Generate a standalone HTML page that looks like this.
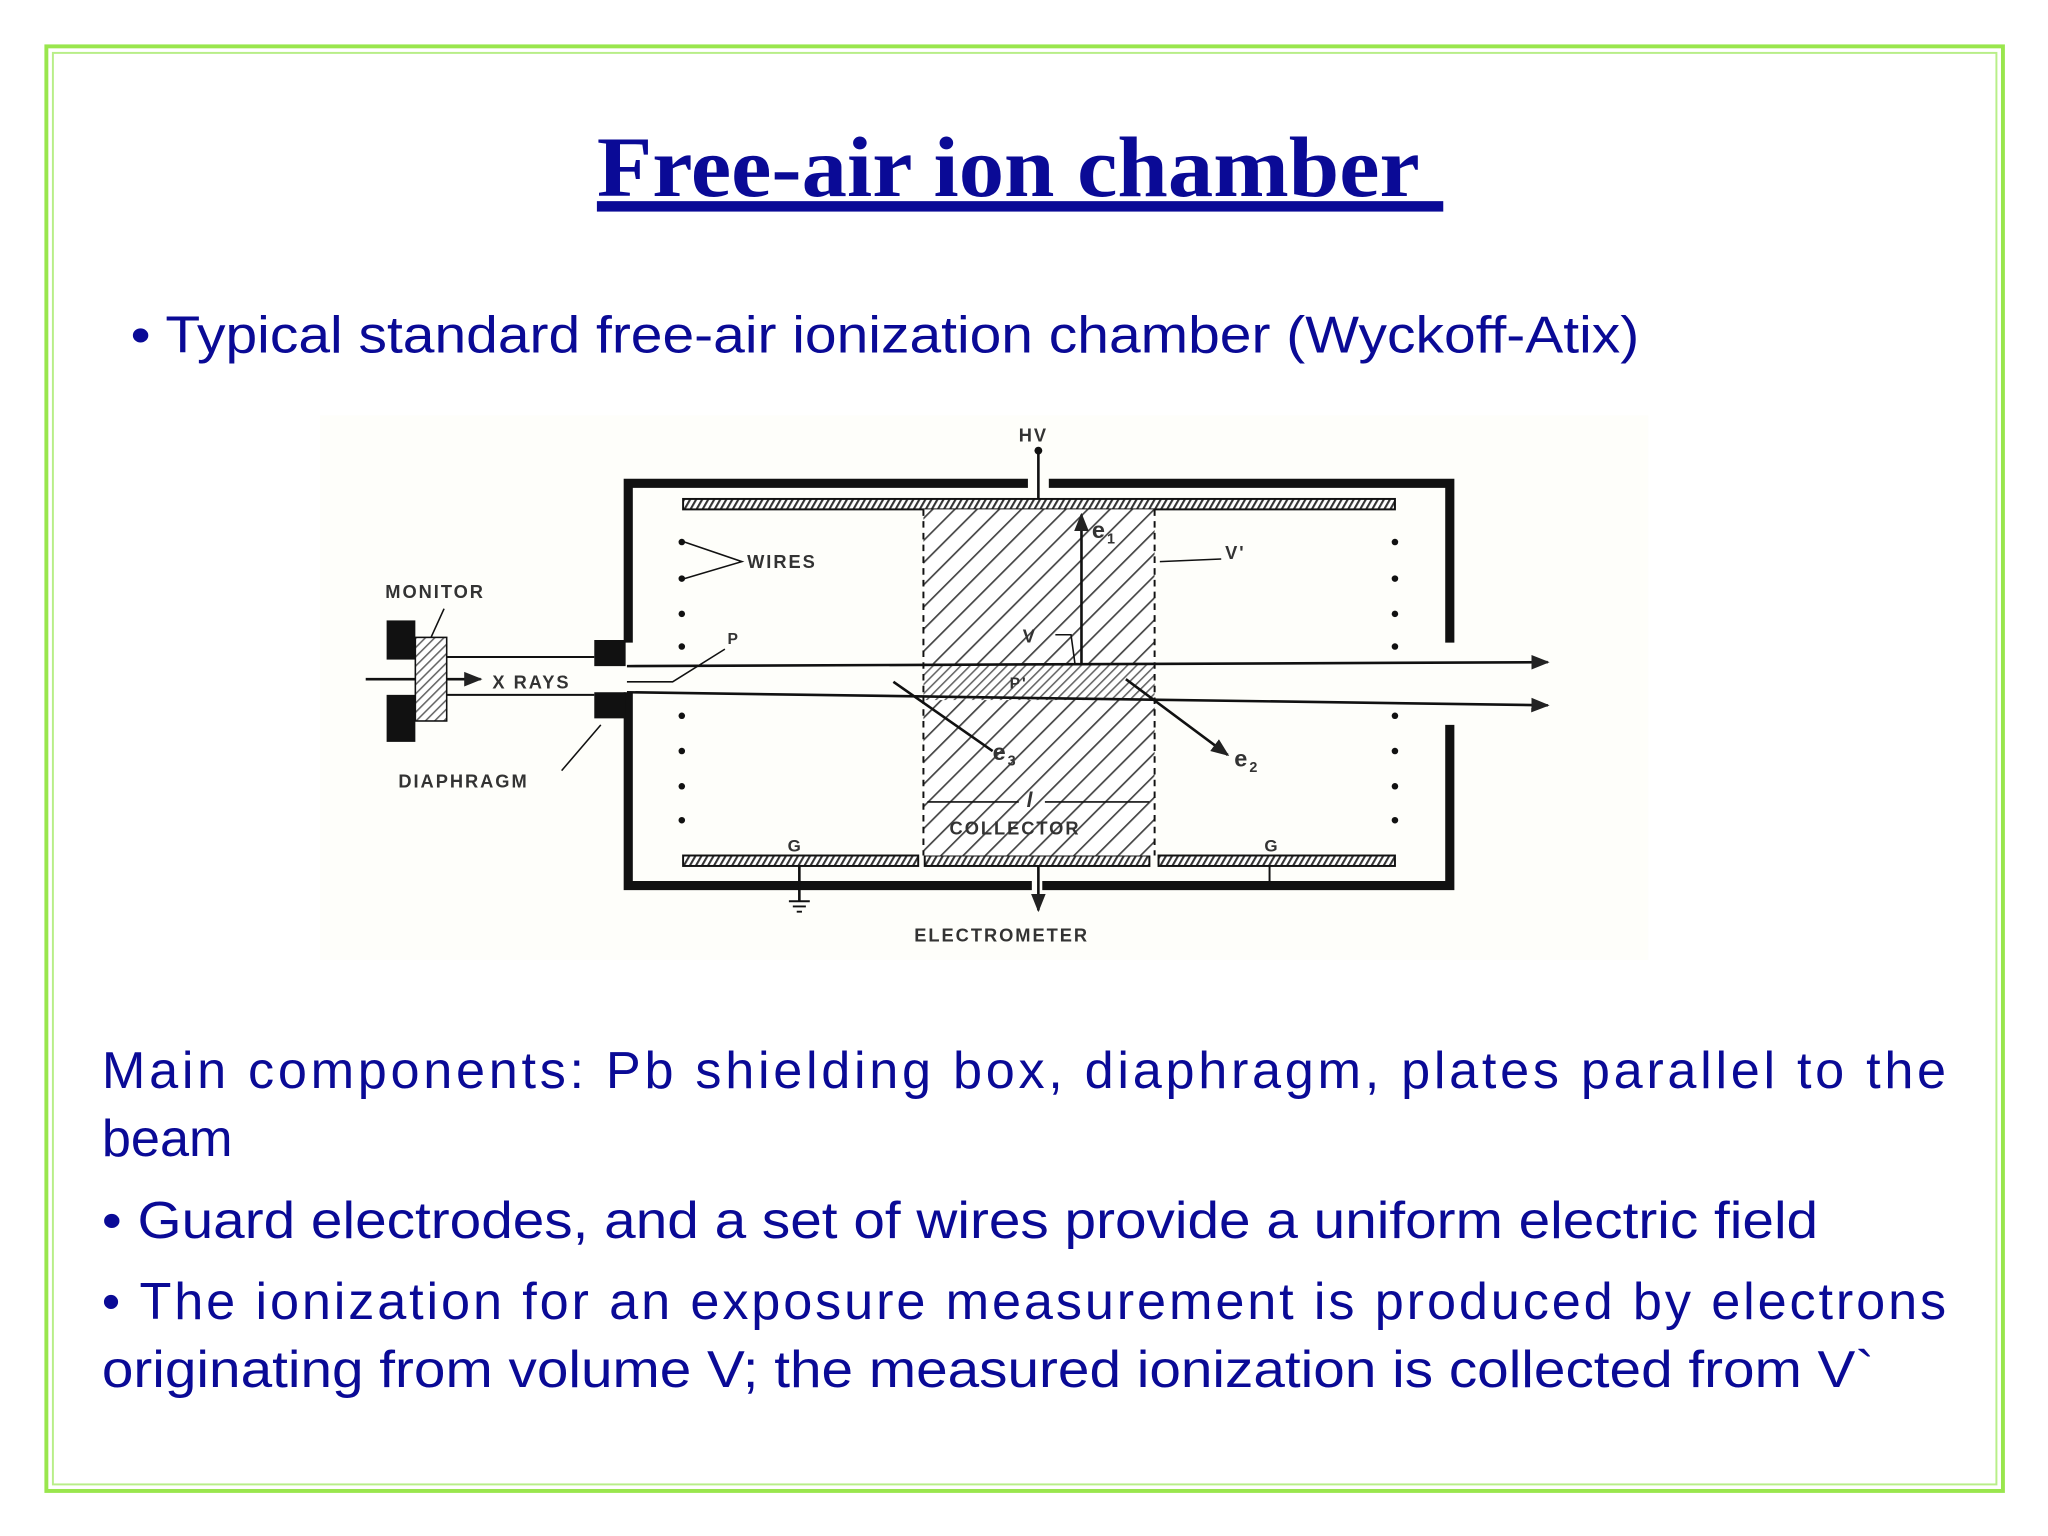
<!DOCTYPE html>
<html><head><meta charset="utf-8"><style>html,body{margin:0;padding:0;background:#fff}svg{display:block}</style></head>
<body>
<svg width="2048" height="1536" viewBox="0 0 1568 1176" xmlns="http://www.w3.org/2000/svg">
<defs>
<pattern id="hp" width="4" height="8" patternUnits="userSpaceOnUse" patternTransform="rotate(30)"><rect width="4" height="8" fill="#fff"/><rect width="1.6" height="8" fill="#333"/></pattern>
<pattern id="hv" width="12" height="12" patternUnits="userSpaceOnUse" patternTransform="rotate(45)"><rect width="12" height="12" fill="#fff"/><rect width="1.3" height="12" fill="#444"/></pattern>
<pattern id="hb" width="5" height="5" patternUnits="userSpaceOnUse" patternTransform="rotate(45)"><rect width="5" height="5" fill="#fff"/><rect width="1.2" height="5" fill="#666"/></pattern>
<marker id="ar" viewBox="0 0 10 10" refX="9" refY="5" markerWidth="7" markerHeight="7" orient="auto"><path d="M0,1 L10,5 L0,9 z" fill="#222"/></marker>
</defs>
<rect width="1568" height="1176" fill="#fff"/>
<rect x="35.5" y="35.5" width="1498" height="1106" fill="none" stroke="#99e64d" stroke-width="3"/>
<rect x="40.5" y="40.5" width="1488" height="1096" fill="none" stroke="#b8ee88" stroke-width="1.5"/>

<text x="457" y="150" font-family="Liberation Serif, serif" font-weight="bold" font-size="66" fill="#0a0a96" textLength="630" lengthAdjust="spacingAndGlyphs">Free-air ion chamber</text>
<rect x="457" y="154" width="648" height="8" fill="#0a0a96"/>

<text x="100" y="270" font-family="Liberation Sans, sans-serif" font-size="40" fill="#0a0a96" textLength="1155" lengthAdjust="spacingAndGlyphs">• Typical standard free-air ionization chamber (Wyckoff-Atix)</text>

<!-- diagram -->
<rect x="245" y="318" width="1017" height="417" fill="#fefefa"/>
<g stroke="#111" fill="none">
 <path d="M787,370 H481 V492 M481,530 V678 H790 M798,678 H1110 V555 M1110,492 V370 H803" stroke-width="7"/>
 <rect x="455" y="490" width="24" height="20" fill="#111" stroke="none"/>
 <rect x="455" y="530" width="24" height="20" fill="#111" stroke="none"/>
 <rect x="523" y="382" width="545" height="8" fill="url(#hp)" stroke-width="1.5"/>
 <rect x="523" y="655" width="180" height="8" fill="url(#hp)" stroke-width="1.5"/>
 <rect x="708" y="655" width="172" height="8" fill="url(#hp)" stroke-width="1.5"/>
 <rect x="887" y="655" width="181" height="8" fill="url(#hp)" stroke-width="1.5"/>
 <rect x="707" y="390" width="177" height="265" fill="url(#hv)" stroke="none"/>
 <rect x="707" y="508" width="177" height="28" fill="url(#hb)" stroke="none"/>
 <line x1="707" y1="390" x2="707" y2="655" stroke-width="1.5" stroke-dasharray="5,4"/>
 <line x1="884" y1="390" x2="884" y2="655" stroke-width="1.5" stroke-dasharray="5,4"/>
 <line x1="320" y1="503" x2="455" y2="503" stroke-width="1.5"/>
 <line x1="320" y1="532" x2="455" y2="532" stroke-width="1.5"/>
 <line x1="480" y1="510" x2="1185" y2="507" stroke-width="2" marker-end="url(#ar)"/>
 <line x1="480" y1="530" x2="1185" y2="540" stroke-width="2" marker-end="url(#ar)"/>
 <line x1="280" y1="520" x2="368" y2="520" stroke-width="2" marker-end="url(#ar)"/>
 <rect x="296" y="475" width="22" height="30" fill="#111" stroke="none"/>
 <rect x="296" y="532" width="22" height="36" fill="#111" stroke="none"/>
 <rect x="318" y="488" width="24" height="64" fill="url(#hb)" stroke-width="1.2"/>
 <line x1="330" y1="488" x2="340" y2="466" stroke-width="1.2"/>
 <path d="M524,415 L568,430 L524,443" stroke-width="1.2"/>
 <path d="M480,522 L515,522 L555,497" stroke-width="1.2"/>
 <path d="M460,555 L430,590" stroke-width="1.2"/>
 <path d="M888,430 L935,428" stroke-width="1.2"/>
 <path d="M808,486 L820,486 L823,508" stroke-width="1.2"/>
 <line x1="828" y1="508" x2="828" y2="394" stroke-width="2" marker-end="url(#ar)"/>
 <line x1="862" y1="520" x2="940" y2="578" stroke-width="2" marker-end="url(#ar)"/>
 <line x1="684" y1="522" x2="760" y2="575" stroke-width="2"/>
 <line x1="710" y1="614" x2="780" y2="614" stroke-width="1.2"/>
 <line x1="800" y1="614" x2="880" y2="614" stroke-width="1.2"/>
 <line x1="795" y1="345" x2="795" y2="382" stroke-width="2"/>
 <line x1="795" y1="663" x2="795" y2="697" stroke-width="2" marker-end="url(#ar)"/>
 <line x1="612" y1="663" x2="612" y2="690" stroke-width="2"/>
 <path d="M604,690 H620 M607,694 H617 M610,698 H614" stroke-width="1.5"/>
 <line x1="972" y1="663" x2="972" y2="675" stroke-width="1.5"/>
</g>
<circle cx="795" cy="345" r="3" fill="#111"/>
<g fill="#111">
 <circle cx="522" cy="415" r="2.5"/><circle cx="522" cy="443" r="2.5"/>
 <circle cx="522" cy="470" r="2.5"/><circle cx="522" cy="495" r="2.5"/><circle cx="522" cy="548" r="2.5"/><circle cx="522" cy="575" r="2.5"/><circle cx="522" cy="602" r="2.5"/><circle cx="522" cy="628" r="2.5"/>
 <circle cx="1068" cy="415" r="2.5"/><circle cx="1068" cy="443" r="2.5"/><circle cx="1068" cy="470" r="2.5"/><circle cx="1068" cy="495" r="2.5"/><circle cx="1068" cy="548" r="2.5"/><circle cx="1068" cy="575" r="2.5"/><circle cx="1068" cy="602" r="2.5"/><circle cx="1068" cy="628" r="2.5"/>
</g>
<g font-family="Liberation Sans, sans-serif" font-size="14" font-weight="bold" fill="#333" letter-spacing="1.5">
 <text x="780" y="338">HV</text>
 <text x="295" y="458">MONITOR</text>
 <text x="572" y="435">WIRES</text>
 <text x="557" y="493" font-size="12">P</text>
 <text x="377" y="527">X RAYS</text>
 <text x="305" y="603">DIAPHRAGM</text>
 <text x="938" y="428">V'</text>
 <text x="836" y="412" font-size="18">e<tspan font-size="11" dy="4">1</tspan></text>
 <text x="783" y="492">V</text>
 <text x="773" y="527" font-size="12">P'</text>
 <text x="760" y="582" font-size="18">e<tspan font-size="11" dy="4">3</tspan></text>
 <text x="945" y="587" font-size="18">e<tspan font-size="11" dy="4">2</tspan></text>
 <text x="786" y="618" font-size="16" font-style="italic">l</text>
 <text x="727" y="639">COLLECTOR</text>
 <text x="603" y="652" font-size="13">G</text>
 <text x="968" y="652" font-size="13">G</text>
 <text x="700" y="721">ELECTROMETER</text>
</g>

<g font-family="Liberation Sans, sans-serif" font-size="40" fill="#0a0a96">
 <text x="78" y="833" textLength="1412" lengthAdjust="spacing">Main components: Pb shielding box, diaphragm, plates parallel to the</text>
 <text x="78" y="885">beam</text>
 <text x="78" y="948" textLength="1314" lengthAdjust="spacingAndGlyphs">• Guard electrodes, and a set of wires provide a uniform electric field</text>
 <text x="78" y="1010" textLength="1412" lengthAdjust="spacing">• The ionization for an exposure measurement is produced by electrons</text>
 <text x="78" y="1062" textLength="1357" lengthAdjust="spacingAndGlyphs">originating from volume V; the measured ionization is collected from V`</text>
</g>
</svg>
</body></html>
